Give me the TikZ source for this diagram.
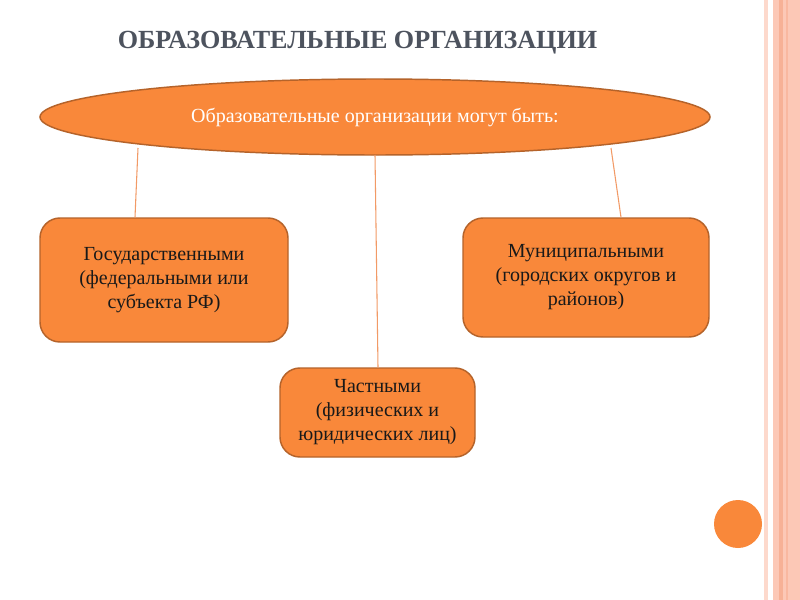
\documentclass[tikz,border=0pt]{standalone}
\usepackage{fontspec}
\setmainfont{Liberation Serif}
\usetikzlibrary{shapes.geometric}
\definecolor{orfill}{HTML}{F9883A}
\definecolor{ordraw}{HTML}{B5632A}
\definecolor{orline}{HTML}{F29A66}
\definecolor{pinklight}{HTML}{FDD9CC}
\definecolor{pinkmid}{HTML}{FCC8B6}
\definecolor{pinkdark}{HTML}{F7B196}
\definecolor{titlegray}{HTML}{4D535E}
\tikzset{
  kindbox/.style={draw=ordraw, line width=1.1pt, fill=orfill, rounded corners=15pt,
    text=black!90, align=center, font=\fontsize{15}{18}\selectfont, inner sep=0pt},
  linkline/.style={draw=orline, line width=0.8pt},
}
\begin{document}
\begin{tikzpicture}[x=0.75pt,y=-0.75pt]
\useasboundingbox (0,0) rectangle (800,600);
\fill[white] (0,0) rectangle (800,600);
% right decoration
\fill[pinklight] (764,0) rectangle (768,600);
\fill[pinkmid] (773,0) rectangle (800,600);
\fill[pinkdark] (779,0) rectangle (783,600);
\fill[pinkdark!70!pinkmid] (786,0) rectangle (788,600);
\fill[orfill] (738,524) circle (24);
% title
\node[font=\bfseries\fontsize{19.6}{22}\selectfont, text=titlegray] (title) at (357.5,43) {ОБРАЗОВАТЕЛЬНЫЕ ОРГАНИЗАЦИИ};
% ellipse
\node[ellipse, draw=ordraw, line width=1.1pt, fill=orfill, minimum width=670*0.75pt, minimum height=76*0.75pt,
  text=white, font=\fontsize{15}{18}\selectfont, inner sep=0pt] (top) at (375,117) {Образовательные организации могут быть:};
% boxes
\node[kindbox, minimum width=248*0.75pt, minimum height=124*0.75pt] (gov) at (164,280) {Государственными\\(федеральными или\\субъекта РФ)};
\node[kindbox, minimum width=246*0.75pt, minimum height=119*0.75pt] (mun) at (586,277.5) {Муниципальными\\(городских округов и\\районов)};
\node[kindbox, minimum width=195*0.75pt, minimum height=89*0.75pt] (priv) at (377.5,412.5) {Частными\\(физических и\\юридических лиц)};
% connectors
\coordinate (a1) at (138,148);
\coordinate (a2) at (375,155);
\coordinate (a3) at (611,148);
\draw[linkline] (a1) -- (gov.north -| 135,0);
\draw[linkline] (a2) -- (priv.north -| 378,0);
\draw[linkline] (a3) -- (mun.north -| 621,0);
\end{tikzpicture}
\end{document}
